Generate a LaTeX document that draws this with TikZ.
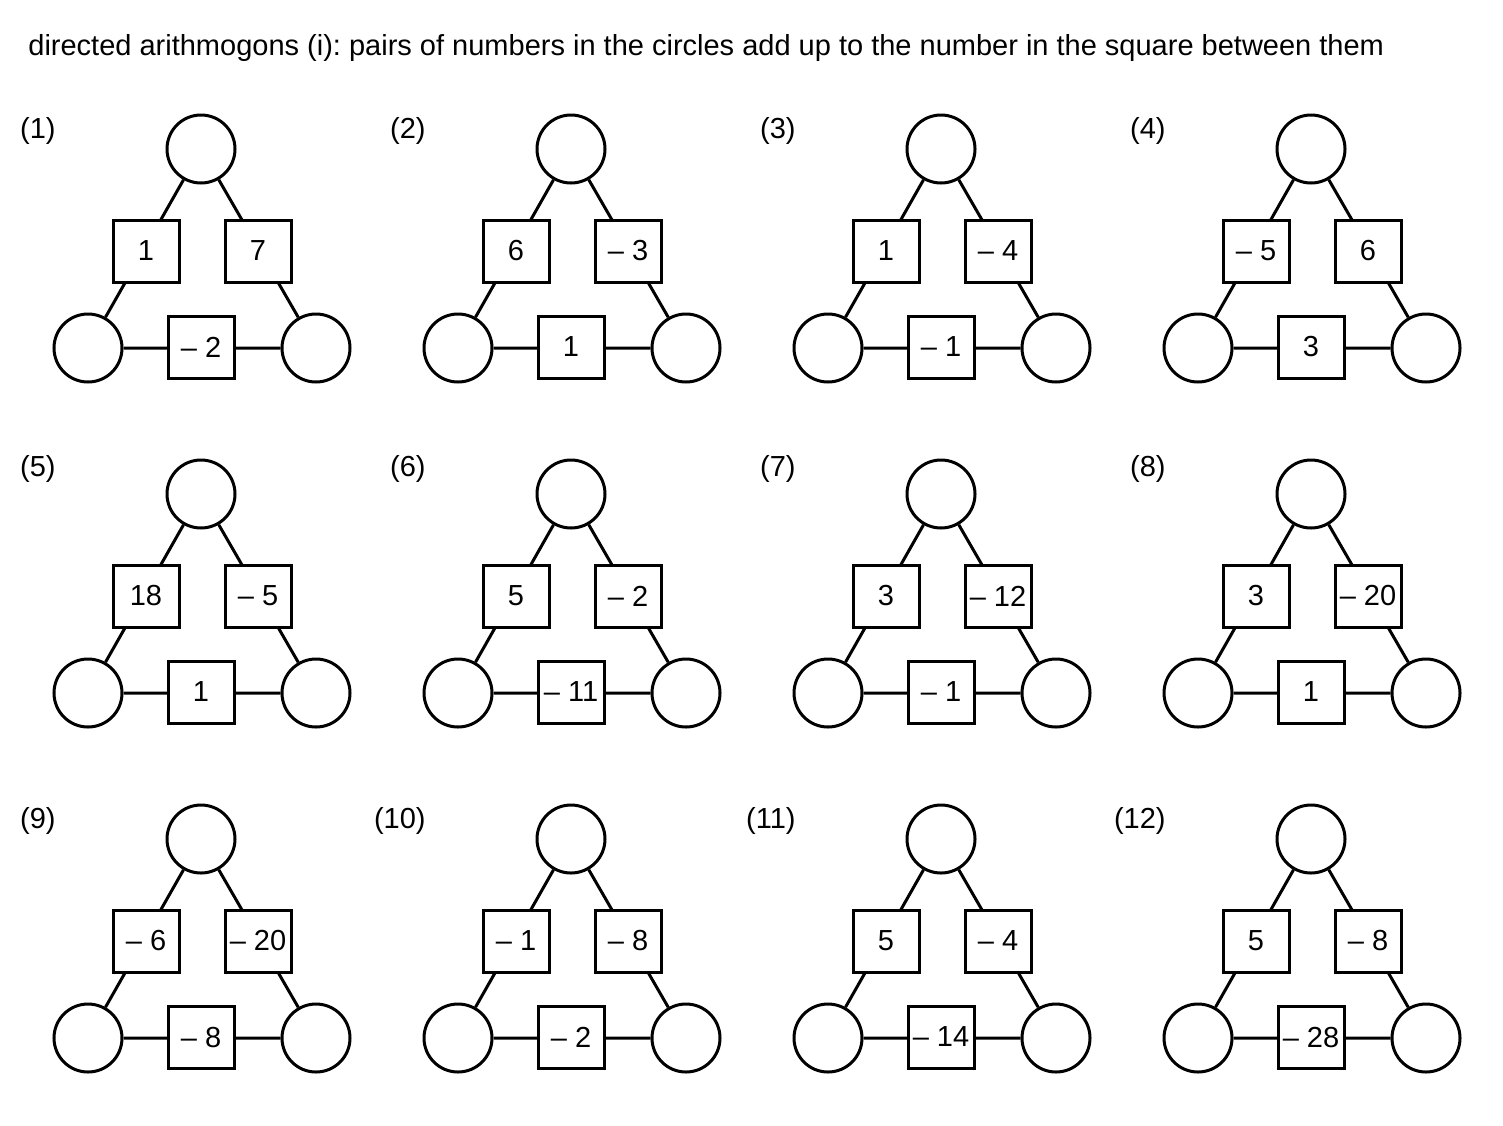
\documentclass[tikz,border=0pt]{standalone}
\usepackage{fontspec}
\setmainfont{Liberation Sans}
\usetikzlibrary{positioning}
\frenchspacing
\tikzstyle{ring} = [circle, draw, line width=1.5pt, minimum size=34pt, inner sep=0pt]
\tikzstyle{sq} = [rectangle, draw, fill=white, line width=1.5pt, minimum width=33pt, minimum height=31pt, inner sep=0pt]
\tikzstyle{edge} = [line width=1.5pt]
\tikzstyle{tag} = [anchor=base east, inner sep=0pt]

\begin{document}
\begin{tikzpicture}[x=0.5pt, y=-0.5pt, font=\fontsize{14.5}{17}\selectfont]
            \useasboundingbox (0,0) rectangle (1503,1125);
            \node[anchor=base west, inner sep=0pt] (title) at (28,55)
                {directed arithmogons (i): pairs of numbers in the circles add up to the number in the square between them};
            % n / left square / right square / bottom square
            \foreach \n/\a/\b/\c in {1/1/7/{– 2}, 2/6/{– 3}/1, 3/1/{– 4}/{– 1}, 4/{– 5}/6/3,
                                      5/18/{– 5}/1, 6/5/{– 2}/{– 11}, 7/3/{– 12}/{– 1}, 8/3/{– 20}/1,
                                      9/{– 6}/{– 20}/{– 8}, 10/{– 1}/{– 8}/{– 2}, 11/5/{– 4}/{– 14}, 12/5/{– 8}/{– 28}} {
                \pgfmathtruncatemacro{\col}{mod(\n-1,4)}
                \pgfmathtruncatemacro{\row}{(\n-1)/4}
                \pgfmathsetmacro{\px}{201+370*\col}
                \pgfmathsetmacro{\py}{149+345*\row}
                \pgfmathsetmacro{\ly}{\py-(\row==1 ? 18 : 11)}
                \node[ring] (t\n) at (\px,\py) {};
                \node[ring] (l\n) at (\px-113,\py+199) {};
                \node[ring] (r\n) at (\px+115,\py+199) {};
                \draw[edge] (t\n) -- (l\n) (t\n) -- (r\n) (l\n) -- (r\n);
                \node[sq] (a\n) at (\px-55,\py+102) {\a};
                \node[sq] (b\n) at (\px+57,\py+102) {\b};
                \node[sq] (c\n) at (\px,\py+198) {\c};
                \node[tag] (lab\n) at (\px-145,\ly) {(\n)};
            }
\end{tikzpicture}
\end{document}
